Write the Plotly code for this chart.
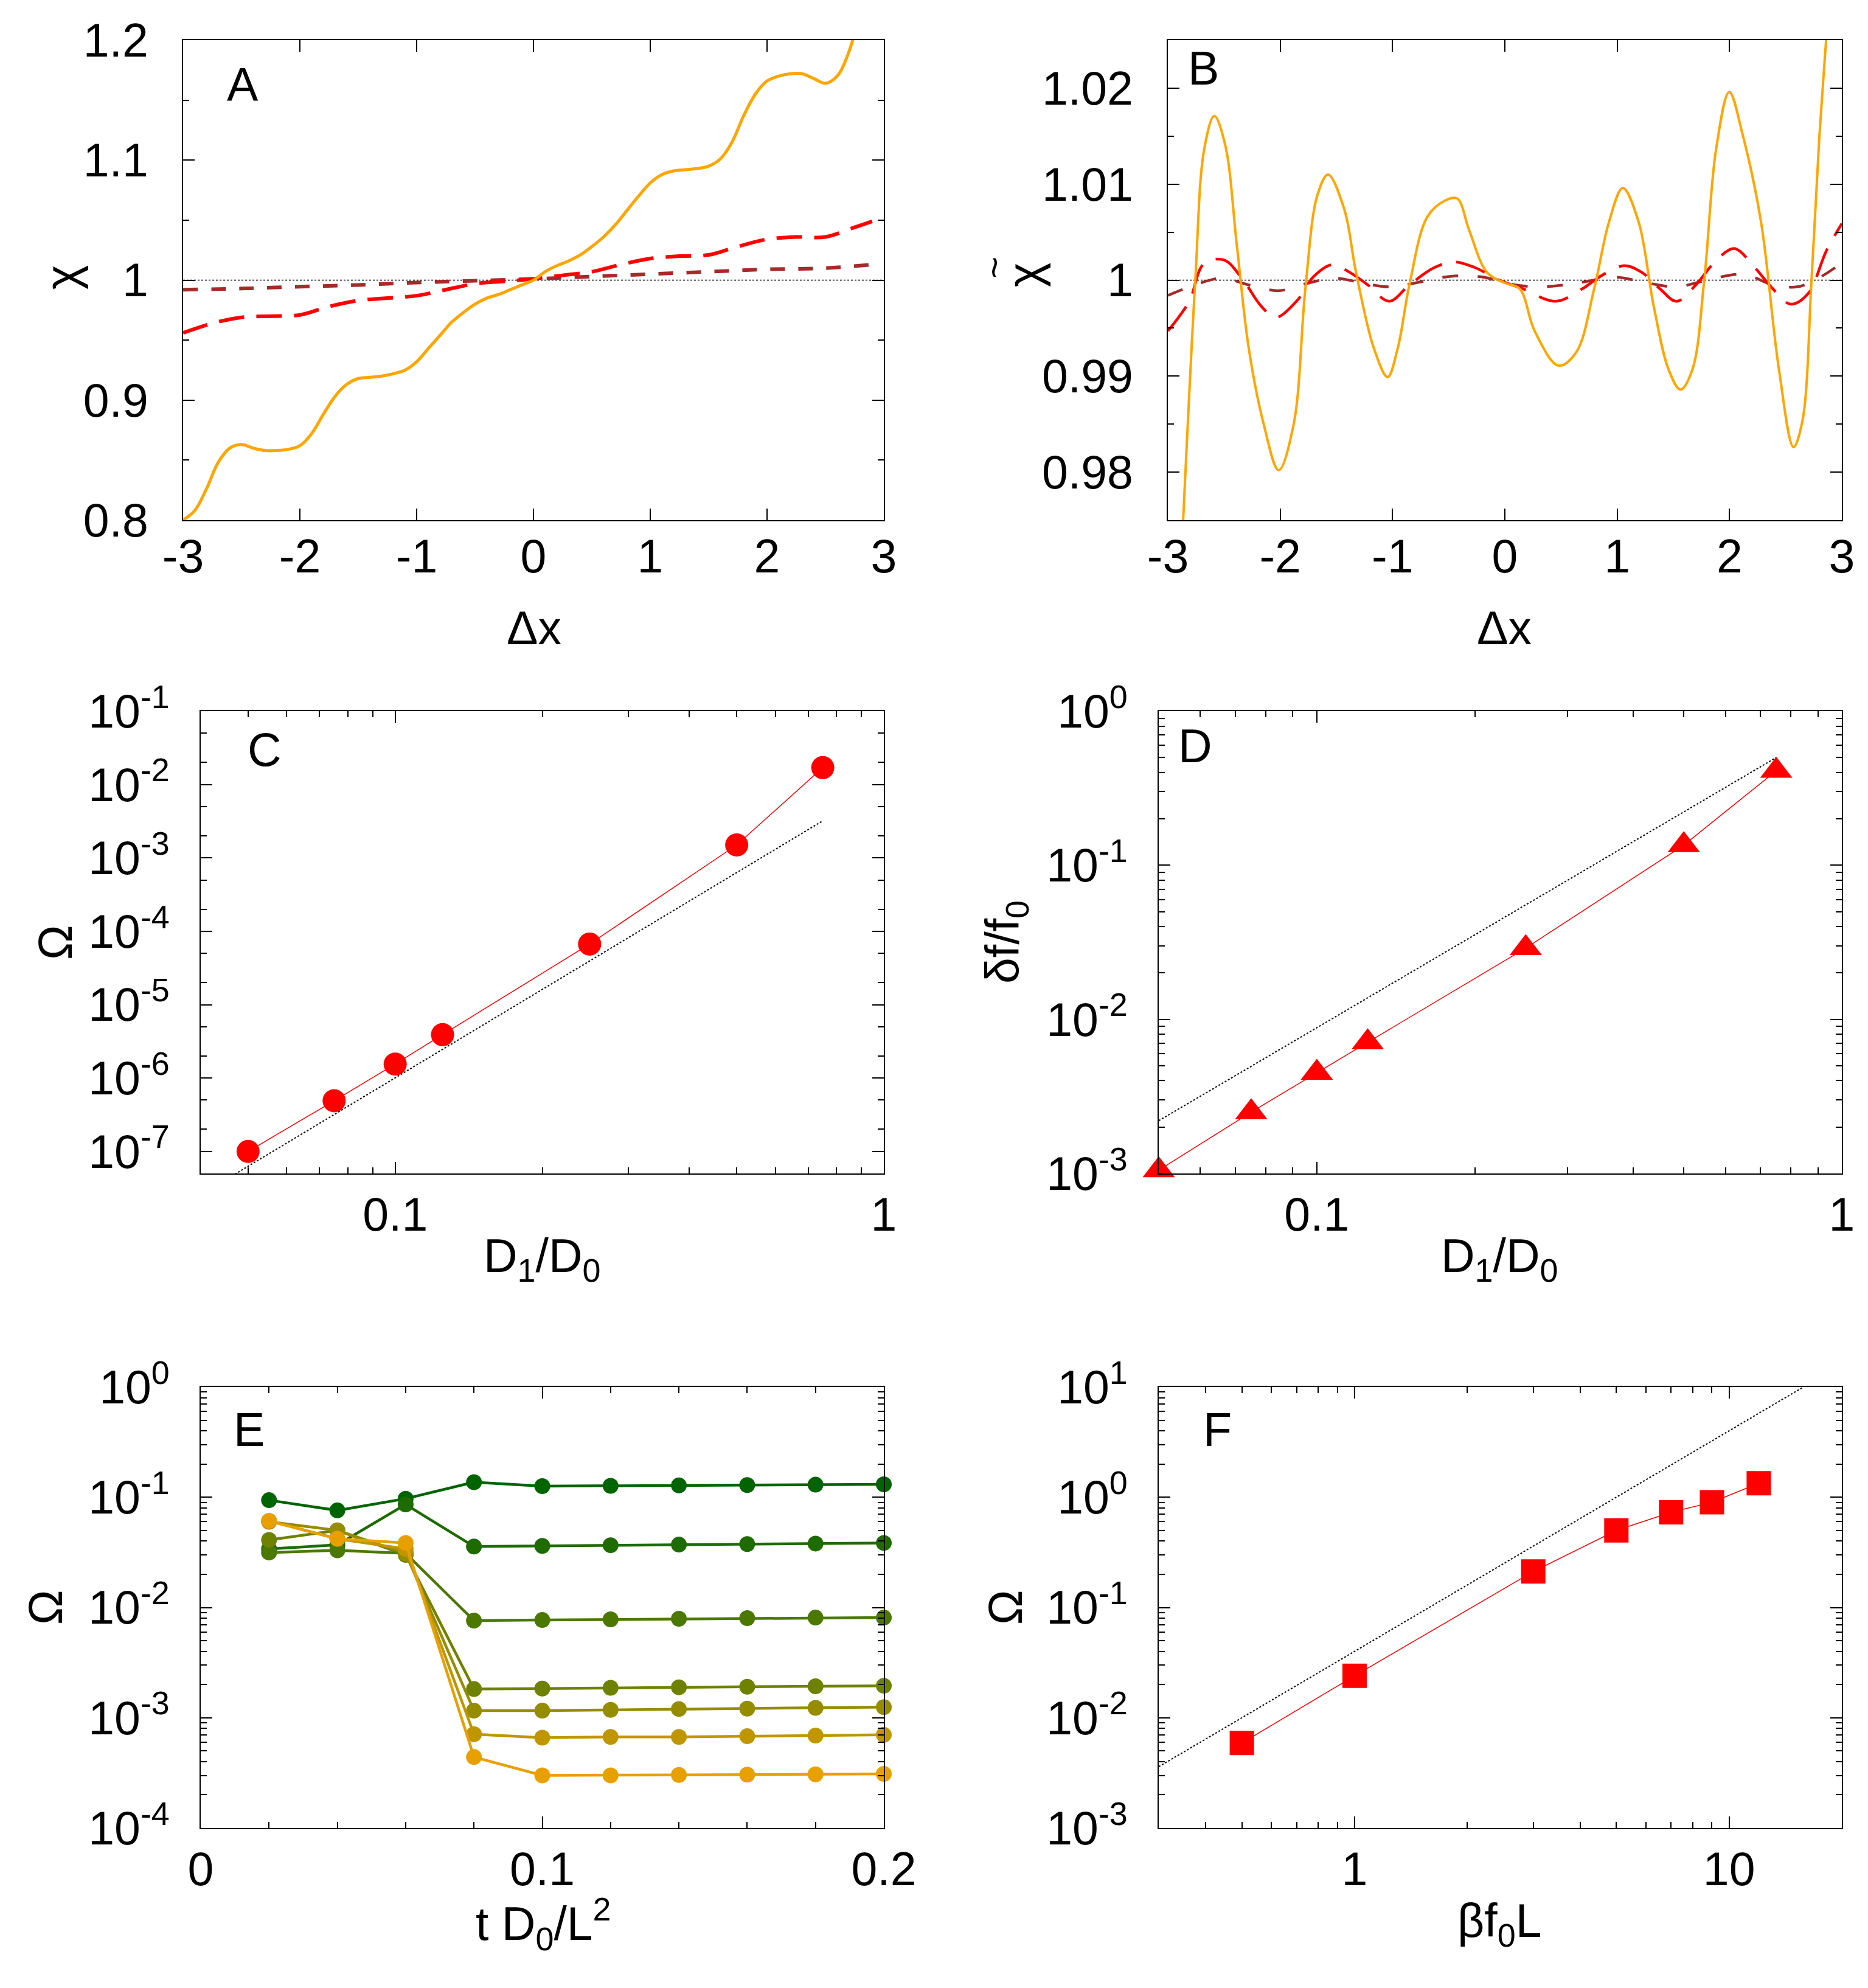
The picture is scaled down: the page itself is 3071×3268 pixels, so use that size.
import plotly.graph_objects as go

W, H = 3071, 3268
FONT = "Liberation Sans, Arial, sans-serif"
FS = 77

# ---------- panel A : chi vs dx ----------
a_orange_x = [-3.0, -2.9, -2.8, -2.7, -2.6, -2.5, -2.4, -2.3, -2.2, -2.1, -2.0, -1.9, -1.8, -1.7,
              -1.6, -1.5, -1.4, -1.3, -1.2, -1.1, -1.0, -0.9, -0.8, -0.7, -0.6, -0.5, -0.4, -0.3,
              -0.2, -0.1, 0.0, 0.1, 0.2, 0.3, 0.4, 0.5, 0.6, 0.7, 0.8, 0.9, 1.0, 1.1, 1.2, 1.3,
              1.4, 1.5, 1.6, 1.7, 1.8, 1.9, 2.0, 2.1, 2.2, 2.3, 2.4, 2.5, 2.6, 2.7, 2.8]
a_orange_y = [0.800, 0.808, 0.826, 0.848, 0.860, 0.863, 0.860, 0.858, 0.858, 0.859, 0.862, 0.872,
              0.888, 0.903, 0.913, 0.918, 0.919, 0.920, 0.922, 0.925, 0.932, 0.943, 0.954, 0.965,
              0.973, 0.980, 0.985, 0.988, 0.992, 0.996, 1.000, 1.007, 1.012, 1.016, 1.021, 1.028,
              1.036, 1.046, 1.058, 1.070, 1.081, 1.088, 1.091, 1.092, 1.093, 1.095, 1.101, 1.115,
              1.137, 1.155, 1.166, 1.170, 1.172, 1.172, 1.168, 1.164, 1.170, 1.190, 1.225]
a_red_x = [-3.0, -2.75, -2.5, -2.25, -2.0, -1.75, -1.5, -1.25, -1.0, -0.75, -0.5, -0.25, 0.0,
           0.25, 0.5, 0.75, 1.0, 1.25, 1.5, 1.75, 2.0, 2.25, 2.5, 2.75, 2.9]
a_red_y = [0.956, 0.964, 0.969, 0.970, 0.971, 0.978, 0.983, 0.985, 0.987, 0.992, 0.997, 0.999,
           1.001, 1.004, 1.007, 1.013, 1.018, 1.020, 1.021, 1.028, 1.034, 1.036, 1.036, 1.044, 1.049]
a_brown_x = [-3.0, -2.5, -2.0, -1.5, -1.0, -0.5, 0.0, 0.5, 1.0, 1.5, 2.0, 2.5, 2.9]
a_brown_y = [0.992, 0.993, 0.9945, 0.996, 0.998, 0.9995, 1.001, 1.003, 1.005, 1.007, 1.009, 1.010, 1.013]
ref_x = [-3, 3]
ref_y = [1, 1]

# ---------- panel B : chi tilde vs dx ----------
b_orange_x = [-2.90, -2.756, -2.677, -2.587, -2.49, -2.385, -2.28, -2.147, -2.014, -1.88, -1.776,
              -1.67, -1.574, -1.43, -1.325, -1.166, -1.044, -0.954, -0.85, -0.69, -0.53, -0.424,
              -0.318, -0.159, 0.0, 0.132, 0.265, 0.477, 0.636, 0.795, 0.928, 1.05, 1.19, 1.325,
              1.457, 1.563, 1.67, 1.775, 1.88, 1.998, 2.12, 2.28, 2.44, 2.57, 2.65, 2.73, 2.80,
              2.86, 2.92]
b_orange_y = [0.966, 1.0, 1.0136, 1.0171, 1.0141, 1.0035, 0.9929, 0.985, 0.9802, 0.985, 0.9991,
              1.0088, 1.011, 1.0074, 1.0008, 0.9929, 0.9899, 0.9929, 0.9995, 1.0066, 1.0083, 1.0085,
              1.0052, 1.0008, 0.9997, 0.9991, 0.9947, 0.9911, 0.9925, 0.9991, 1.0061, 1.0096,
              1.0061, 0.9973, 0.9907, 0.9886, 0.9907, 1.0, 1.0136, 1.0196, 1.015, 1.0061, 0.9907,
              0.9826, 0.9854, 1.0, 1.015, 1.025, 1.035]
b_red_x = [-3.0, -2.81, -2.68, -2.5, -2.33, -2.17, -2.04, -1.855, -1.7, -1.54, -1.38, -1.22, -1.03,
           -0.85, -0.63, -0.45, -0.265, -0.05, 0.16, 0.45, 0.69, 0.85, 1.06, 1.22, 1.38, 1.53,
           1.70, 1.855, 2.04, 2.225, 2.385, 2.545, 2.70, 2.86, 3.0]
b_red_y = [0.9947, 0.9978, 1.0017, 1.0021, 1.0, 0.9973, 0.9961, 0.9978, 1.0004, 1.0016, 1.0008,
           0.9995, 0.9978, 0.9995, 1.0013, 1.0019, 1.0013, 1.0, 0.9991, 0.9978, 0.9991, 1.0004,
           1.0015, 1.0008, 0.9991, 0.9978, 0.9995, 1.0017, 1.0033, 1.0013, 0.9991, 0.9975,
           0.9986, 1.003, 1.0059]
b_brown_x = [-3.0, -2.76, -2.52, -2.28, -2.01, -1.75, -1.51, -1.27, -1.03, -0.8, -0.48, -0.185,
             0.0, 0.265, 0.53, 0.85, 1.0, 1.27, 1.53, 1.80, 2.12, 2.39, 2.6, 2.76, 2.94]
b_brown_y = [0.9984, 0.9995, 1.0002, 0.9995, 0.9989, 0.9997, 1.0002, 0.9997, 0.9993, 0.9997,
             1.0004, 1.0003, 0.9997, 0.9993, 0.9995, 1.0001, 1.0003, 0.9997, 0.9993, 1.0, 1.0006,
             0.9995, 0.9993, 1.0, 1.0013]

# ---------- panel C : Omega vs D1/D0 ----------
d_ratio = [0.05, 0.075, 0.1, 0.125, 0.25, 0.5, 0.75]
c_omega = [1.0e-7, 4.9e-7, 1.55e-6, 3.9e-6, 6.7e-5, 1.5e-3, 1.7e-2]
c_guide_x = [0.047, 0.75]
c_guide_y = [4.9e-8, 3.2e-3]

# ---------- panel D : df/f0 vs D1/D0 ----------
d_df = [1.05e-3, 2.5e-3, 4.5e-3, 7.1e-3, 2.9e-2, 0.135, 0.41]
d_guide_x = [0.05, 0.75]
d_guide_y = [2.2e-3, 0.5]

# ---------- panel E : Omega vs time ----------
e_t = [0.02, 0.04, 0.06, 0.08, 0.10, 0.12, 0.14, 0.16, 0.18, 0.20]
e_series = [
    [0.094, 0.076, 0.097, 0.137, 0.126, 0.127, 0.128, 0.129, 0.130, 0.131],
    [0.034, 0.037, 0.086, 0.0357, 0.0362, 0.0367, 0.0372, 0.0376, 0.0380, 0.0385],
    [0.0315, 0.033, 0.031, 0.0076, 0.0077, 0.0078, 0.0079, 0.0080, 0.0081, 0.0081],
    [0.041, 0.050, 0.030, 0.00182, 0.00184, 0.00187, 0.00189, 0.00191, 0.00193, 0.00195],
    [0.060, 0.050, 0.031, 0.00116, 0.00116, 0.00118, 0.00120, 0.00121, 0.00123, 0.00125],
    [0.061, 0.042, 0.034, 0.00071, 0.00066, 0.00067, 0.00067, 0.00068, 0.00069, 0.00070],
    [0.061, 0.042, 0.0385, 0.00044, 0.00030, 0.000300, 0.000303, 0.000305, 0.000307, 0.00031],
]
e_colors = ["#006400", "#1e6b00", "#4a7800", "#6e8200", "#968c00", "#c09600", "#e8a000"]

# ---------- panel F : Omega vs beta f0 L ----------
f_force = [0.5, 1.0, 3.0, 5.0, 7.0, 9.0, 12.0]
f_omega = [0.0059, 0.024, 0.212, 0.50, 0.73, 0.90, 1.34]
f_guide_x = [0.3, 15.8]
f_guide_y = [0.0036, 10.0]

fig = go.Figure()

def line(x, y, ax, color, width, dash="solid", shape="spline"):
    fig.add_trace(go.Scatter(x=x, y=y, mode="lines", xaxis="x" + ax, yaxis="y" + ax,
                             line=dict(color=color, width=width, dash=dash, shape=shape),
                             showlegend=False, hoverinfo="skip"))

# A
line(ref_x, ref_y, "", "black", 1.5, "dot", "linear")
line(a_brown_x, a_brown_y, "", "#a52a2a", 6, "24px,22px")
line(a_red_x, a_red_y, "", "#ff0000", 6, "42px,20px")
line(a_orange_x, a_orange_y, "", "#ffa500", 5)
# B
line(ref_x, ref_y, "2", "black", 1.5, "dot", "linear")
line(b_brown_x, b_brown_y, "2", "#a52a2a", 4.5, "26px,32px")
line(b_red_x, b_red_y, "2", "#ff0000", 4.5, "50px,24px")
line(b_orange_x, b_orange_y, "2", "#ffa500", 4)
# C
line(c_guide_x, c_guide_y, "3", "black", 2, "dot", "linear")
fig.add_trace(go.Scatter(x=d_ratio, y=c_omega, mode="lines+markers", xaxis="x3", yaxis="y3",
                         line=dict(color="#ff0000", width=1.5),
                         marker=dict(symbol="circle", size=38, color="#ff0000"),
                         showlegend=False, cliponaxis=False))
# D
line(d_guide_x, d_guide_y, "4", "black", 2, "dot", "linear")
fig.add_trace(go.Scatter(x=d_ratio, y=d_df, mode="lines+markers", xaxis="x4", yaxis="y4",
                         line=dict(color="#ff0000", width=1.5),
                         marker=dict(symbol="triangle-up", size=46, color="#ff0000"),
                         showlegend=False, cliponaxis=False))
# E
for vals, col in zip(e_series, e_colors):
    fig.add_trace(go.Scatter(x=e_t, y=vals, mode="lines+markers", xaxis="x5", yaxis="y5",
                             line=dict(color=col, width=4.5),
                             marker=dict(symbol="circle", size=26, color=col),
                             showlegend=False, cliponaxis=False))
# F
line(f_guide_x, f_guide_y, "6", "black", 2, "dot", "linear")
fig.add_trace(go.Scatter(x=f_force, y=f_omega, mode="lines+markers", xaxis="x6", yaxis="y6",
                         line=dict(color="#ff0000", width=1.5),
                         marker=dict(symbol="square", size=40, color="#ff0000"),
                         showlegend=False, cliponaxis=False))


def axis(domain, anchor, rng, tickvals, ticktext, log=False, minor=None, standoff=40):
    d = dict(domain=domain, anchor=anchor, range=rng, tickmode="array",
             tickvals=tickvals, ticktext=ticktext, showline=True, linecolor="black",
             linewidth=1.5, mirror="allticks", ticks="inside", ticklen=19, tickwidth=1.5,
             tickcolor="black", showgrid=False, zeroline=False, ticklabelstandoff=standoff,
             automargin=False, tickfont=dict(family=FONT, size=FS, color="black"))
    if log:
        d["type"] = "log"
    if minor is not None:
        d["minor"] = dict(ticks="inside", ticklen=10, tickwidth=1.5, tickcolor="black",
                          showgrid=False, **minor)
    return d


def px_x(p):
    return p / W


def px_y(p):
    return 1 - p / H


colA = [px_x(293), px_x(1445)]
colA2 = [px_x(322), px_x(1445)]
colB = [px_x(1912), px_x(3020)]
colB2 = [px_x(1897), px_x(3020)]
row1 = [px_y(847), px_y(58)]
row2 = [px_y(1921), px_y(1161)]
row3 = [px_y(2997), px_y(2272)]

dx_vals = [-3, -2, -1, 0, 1, 2, 3]
dx_text = ["-3", "-2", "-1", "0", "1", "2", "3"]

def pow_text(exps):
    return ["10<sup>%d</sup>" % e for e in exps]

fig.update_layout(
    width=W, height=H, margin=dict(l=0, r=0, t=0, b=0, autoexpand=False),
    paper_bgcolor="white", plot_bgcolor="white", showlegend=False,
    xaxis=axis(colA, "y", [-3, 3], dx_vals, dx_text, standoff=-8),
    yaxis=axis(row1, "x", [0.8, 1.2], [0.8, 0.9, 1.0, 1.1, 1.2],
               ["0.8", "0.9", "1", "1.1", "1.2"], minor=dict(dtick=0.05)),
    xaxis2=axis(colB, "y2", [-3, 3], dx_vals, dx_text, standoff=-8),
    yaxis2=axis(row1, "x2", [0.975, 1.025], [0.98, 0.99, 1.0, 1.01, 1.02],
                ["0.98", "0.99", "1", "1.01", "1.02"], minor=dict(dtick=0.005)),
    xaxis3=axis(colA2, "y3", [-1.39794, 0], [0.1, 1], ["0.1", "1"], log=True,
                minor=dict(dtick="D1"), standoff=0),
    yaxis3=axis(row2, "x3", [-7.3, -1], [10.0 ** e for e in range(-7, 0)],
                pow_text(range(-7, 0)), log=True, minor=dict(dtick="D2"), standoff=34),
    xaxis4=axis(colB2, "y4", [-1.30103, 0], [0.1, 1], ["0.1", "1"], log=True,
                minor=dict(dtick="D1"), standoff=0),
    yaxis4=axis(row2, "x4", [-3, 0], [10.0 ** e for e in range(-3, 1)],
                pow_text(range(-3, 1)), log=True, minor=dict(dtick="D1"), standoff=34),
    xaxis5=axis(colA2, "y5", [0, 0.2], [0, 0.1, 0.2], ["0", "0.1", "0.2"],
                minor=dict(dtick=0.02), standoff=0),
    yaxis5=axis(row3, "x5", [-4, 0], [10.0 ** e for e in range(-4, 1)],
                pow_text(range(-4, 1)), log=True, minor=dict(dtick="D1"), standoff=34),
    xaxis6=axis(colB2, "y6", [-0.52288, 1.30103], [1, 10], ["1", "10"], log=True,
                minor=dict(dtick="D1"), standoff=0),
    yaxis6=axis(row3, "x6", [-3, 1], [10.0 ** e for e in range(-3, 2)],
                pow_text(range(-3, 2)), log=True, minor=dict(dtick="D1"), standoff=34),
)

# axis titles and panel letters
labels = [
    ("χ", 94, 448, -90, FS), ("Δx", 870, 1024, 0, FS),
    ("χ", 1676, 444, -90, FS), ("~", 1626, 432, -90, 62), ("Δx", 2465, 1024, 0, FS),
    ("Ω", 83, 1541, -90, FS), ("D<sub>1</sub>/D<sub>0</sub>", 883, 2061, 0, FS),
    ("δf/f<sub>0</sub>", 1645, 1541, -90, FS), ("D<sub>1</sub>/D<sub>0</sub>", 2457, 2061, 0, FS),
    ("Ω", 67, 2634, -90, FS), ("t D<sub>0</sub>/L<sup>2</sup>", 885, 3154, 0, FS),
    ("Ω", 1645, 2634, -90, FS), ("βf<sub>0</sub>L", 2457, 3154, 0, FS),
    ("A", 391, 131, 0, FS), ("B", 1970, 104, 0, FS), ("C", 427, 1224, 0, FS),
    ("D", 1957, 1218, 0, FS), ("E", 402, 2342, 0, FS), ("F", 1993, 2342, 0, FS),
]
for text, x, y, ang, size in labels:
    fig.add_annotation(text=text, x=px_x(x), y=px_y(y), xref="paper", yref="paper",
                       xanchor="center", yanchor="middle", showarrow=False, textangle=ang,
                       font=dict(family=FONT, size=size, color="black"))

fig.write_html("out.html")
